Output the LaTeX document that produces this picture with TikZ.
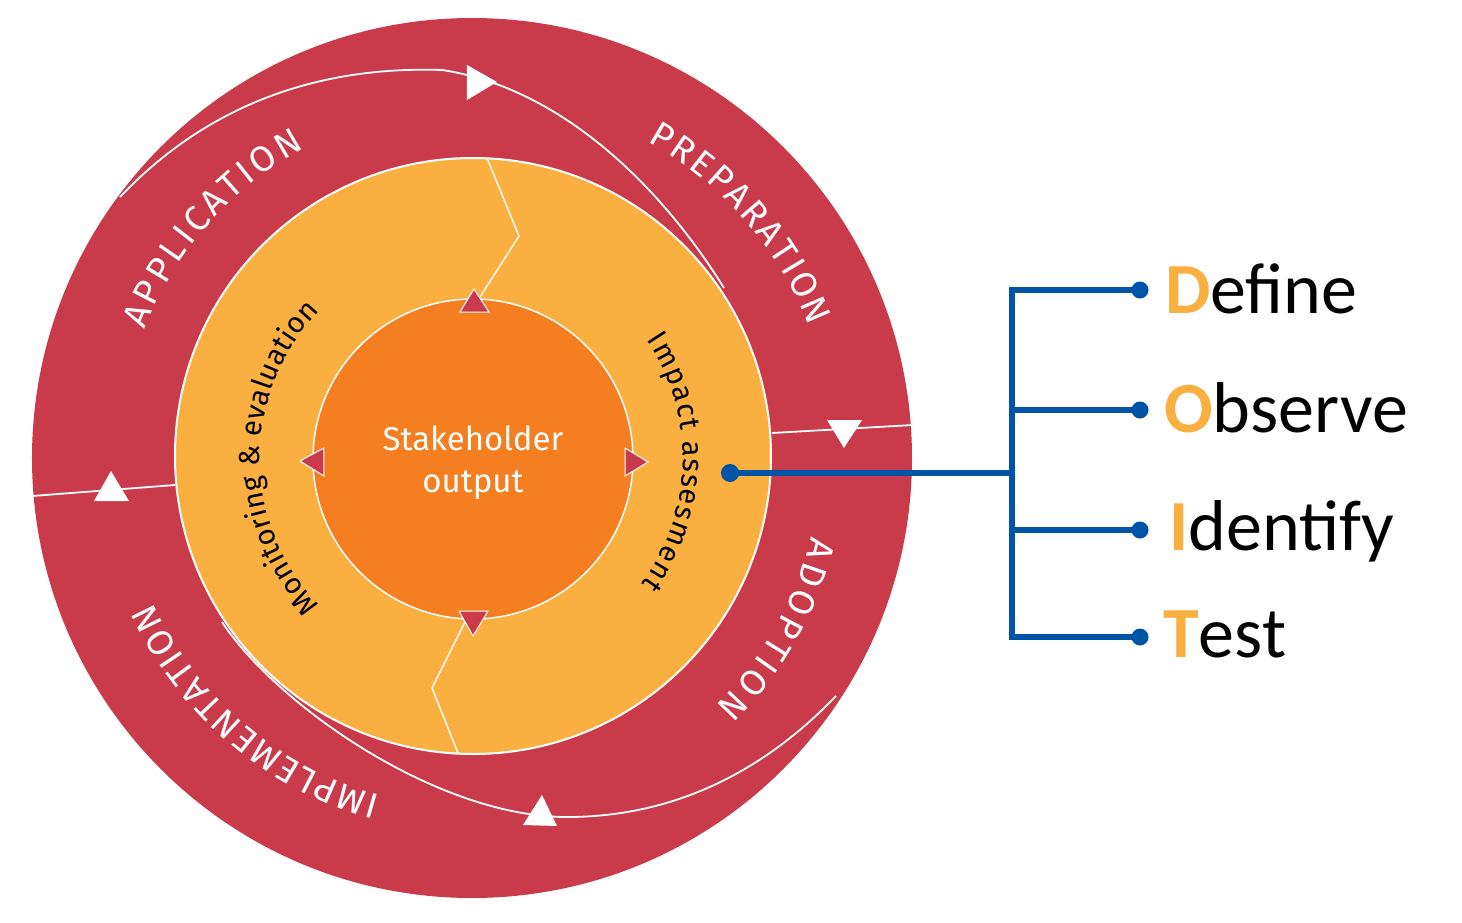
\documentclass[tikz,border=0pt]{standalone}
\usepackage{fontspec}
\setmainfont{Fira Sans}
\newfontfamily\calibfam{Carlito}
\usetikzlibrary{decorations.text}
\definecolor{ringred}{RGB}{201,58,74}
\definecolor{ringyel}{RGB}{250,176,64}
\definecolor{coreor}{RGB}{244,126,32}
\definecolor{dotblue}{RGB}{0,84,166}
\newcommand\ringsize{\fontsize{36}{38}\selectfont}
\newcommand\innersize{\fontsize{29}{31}\selectfont}
\begin{document}
\begin{tikzpicture}[x=1pt,y=1pt,
  wline/.style={white,line width=1.8pt},
  zline/.style={white,line width=1.4pt},
  wtri/.style={fill=white},
  itri/.style={fill=ringred,draw=white,line width=1pt},
  bline/.style={dotblue,line width=6pt,line join=miter},
  bdot/.style={circle,fill=dotblue,inner sep=0pt,minimum size=18pt},
  ringtext/.style={decorate,decoration={text along path,text color=white,text align={fit to path},text={|\ringsize|#1}}},
  innertext/.style={decorate,decoration={text along path,text color=black,text align={fit to path},text={|\innersize|#1}}},
  doit/.style={anchor=base west,inner sep=0pt,font=\calibfam\fontsize{72}{72}\selectfont}]
\useasboundingbox (-472,-464) rectangle (990,458);
\fill[white] (-472,-464) rectangle (990,458);
% outer red ring
\fill[ringred] (0,0) circle[radius=440];
% white arrows in the red ring
\draw[wline] (-352,261) .. controls (-262,356) and (-150,392) .. (-30,388)
                        .. controls (90,370) and (190,270) .. (252,170);
\draw[wline] (-250,-164) .. controls (-195,-247) and (-35,-359) .. (95,-359)
                         .. controls (205,-359) and (294,-311) .. (364,-238);
\draw[wline] (-440,-38) -- (-297,-27);
\draw[wline] (300,25) -- (441,33);
\fill[wtri] (25,376) -- (-5,393) -- (-5,358) -- cycle;
\fill[wtri] (70,-337) -- (51,-367) -- (85,-368) -- cycle;
\fill[wtri] (-361,-13) -- (-378,-43) -- (-343,-43) -- cycle;
\fill[wtri] (372,10) -- (355,38) -- (390,38) -- cycle;
% yellow ring
\filldraw[fill=ringyel,draw=white,line width=2pt] (1,2) circle[radius=298];
\draw[zline] (15,300) -- (47,222) -- (8,161);
\draw[zline] (-7,-164) -- (-40,-230) -- (-14,-295);
% orange core
\filldraw[fill=coreor,draw=white,line width=1.5pt] (1,-1) circle[radius=160];
\filldraw[itri] (2,169) -- (-12,146) -- (17,146) -- cycle;
\filldraw[itri] (-172,-3) -- (-148,10) -- (-148,-18) -- cycle;
\filldraw[itri] (176,-4) -- (153,10) -- (153,-18) -- cycle;
\filldraw[itri] (1,-178) -- (-13,-153) -- (16,-153) -- cycle;
\node[text=white,align=center,font=\fontsize{33}{42}\selectfont] (core) at (1,-5) {Stakeholder\\output};
% ring labels
\path[ringtext=APPLICATION] (158.6:352) arc[start angle=158.6,end angle=118.4,radius=352];
\path[ringtext=PREPARATION] (61:362) arc[start angle=61,end angle=21.3,radius=362];
\path[ringtext=ADOPTION] (-13:348) arc[start angle=-13,end angle=-45.5,radius=348];
\path[ringtext=IMPLEMENTATION] (-105.2:350) arc[start angle=-105.2,end angle=-155.6,radius=350];
\path[innertext={Monitoring {\&} evaluation}] (-135.8:212) arc[start angle=-135.8,end angle=-224,radius=212];
\path[innertext={Impact assesment}] (34:211) arc[start angle=34,end angle=-36.5,radius=211];
% DOIT connector
\node[bdot] (src) at (258,-15) {};
\coordinate (hub) at (540,-15);
\coordinate (vt) at (540,168);
\coordinate (vb) at (540,-179);
\node[bdot,minimum size=17pt] (d1) at (668,168) {};
\node[bdot,minimum size=17pt] (d2) at (668,48) {};
\node[bdot,minimum size=17pt] (d3) at (668,-72) {};
\node[bdot,minimum size=17pt] (d4) at (668,-179) {};
\draw[bline] (d1.center) -- (vt) -- (vb) -- (d4.center);
\draw[bline] (src.center) -- (hub);
\draw[bline] (d2.center) -- (d2 -| hub);
\draw[bline] (d3.center) -- (d3 -| hub);
\node[doit] (tD) at (693,145) {\textcolor{ringyel}{\bfseries D}efine};
\node[doit] (tO) at (692,26) {\textcolor{ringyel}{\bfseries O}bserve};
\node[doit] (tI) at (697,-92) {\textcolor{ringyel}{\bfseries I}dentify};
\node[doit] (tT) at (691,-199) {\textcolor{ringyel}{\bfseries T}est};
\end{tikzpicture}
\end{document}
